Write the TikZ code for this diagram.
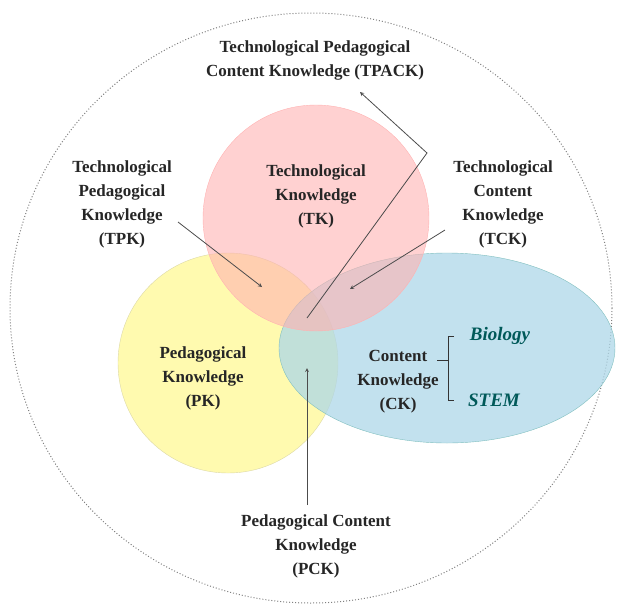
\documentclass[tikz,border=0pt]{standalone}
\usepackage{fontspec}
\setmainfont{Liberation Serif}
\begin{document}
\begin{tikzpicture}[x=1pt,y=-1pt,
  lbl/.style={font=\fontsize{17}{24}\selectfont\bfseries,align=center,text=black!85,inner sep=1pt},
  sub/.style={font=\fontsize{19}{22}\selectfont\bfseries\itshape,text=teal!70!black},
  arr/.style={draw=black!70,line width=0.8pt,-stealth}]
\useasboundingbox (0,0) rectangle (622,606);
\draw[black!50,dotted,line width=1pt] (311,308) ellipse [x radius=301,y radius=295];
\fill[yellow!35!white,opacity=0.9] (228,363) circle (110);
\draw[yellow!60!black!40] (228,363) circle (110);
\fill[cyan!50!teal!35!white,opacity=0.75] (447,348) ellipse [x radius=168,y radius=95];
\draw[teal!50] (447,348) ellipse [x radius=168,y radius=95];
\fill[red!30!white,opacity=0.6] (316,218) circle (113);
\draw[red!30] (316,218) circle (113);
\node[lbl] (tpack) at (315,60) {Technological Pedagogical\\Content Knowledge (TPACK)};
\node[lbl] (tpk) at (122,204) {Technological\\Pedagogical\\Knowledge\\(TPK)};
\node[lbl] (tk) at (316,196) {Technological\\Knowledge\\(TK)};
\node[lbl] (tck) at (503,204) {Technological\\Content\\Knowledge\\(TCK)};
\node[lbl] (pk) at (203,378) {Pedagogical\\Knowledge\\(PK)};
\node[lbl] (ck) at (398,382) {Content\\Knowledge\\(CK)};
\node[sub] (bio) at (500,336) {Biology};
\node[sub] (stem) at (494,400) {STEM};
\node[lbl] (pck) at (316,546) {Pedagogical Content\\Knowledge\\(PCK)};
\coordinate (cke) at (437,360);
\coordinate (bt) at (448,336);
\coordinate (bb) at (448,400);
\draw[black!80,line width=1pt] (cke) -- (bt|-cke);
\draw[black!80,line width=1pt] ([xshift=6pt]bt) -- (bt) -- (bb) -- ([xshift=6pt]bb);
\coordinate (tpkS) at (178,222); \coordinate (tpkE) at (262,287);
\coordinate (tckS) at (445,230); \coordinate (tckE) at (350,289);
\coordinate (pckS) at (307,505); \coordinate (pckE) at (307,368);
\coordinate (tpS) at (307,318); \coordinate (tpM) at (427,153); \coordinate (tpE) at (360,92);
\draw[arr] (tpkS) -- (tpkE);
\draw[arr] (tckS) -- (tckE);
\draw[arr] (pckS) -- (pckE);
\draw[arr] (tpS) -- (tpM) -- (tpE);
\end{tikzpicture}
\end{document}
